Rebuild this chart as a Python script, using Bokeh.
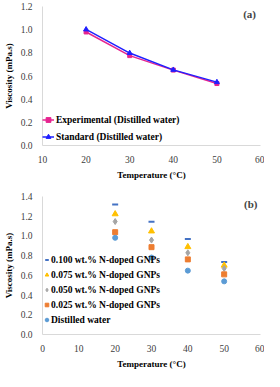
from bokeh.plotting import figure
from bokeh.layouts import column
from bokeh.models import Range1d, FixedTicker, Label, Legend, LegendItem, NumeralTickFormatter
from bokeh.embed import file_html
from bokeh.resources import INLINE

# ---- data (a)
temp_a = [20, 30, 40, 50]
exp_dw = [0.980, 0.776, 0.651, 0.535]
std_dw = [1.002, 0.798, 0.653, 0.547]

# ---- data (b)
temp_b = [20, 30, 40, 50]
gnp_0100 = [1.320, 1.143, 0.968, 0.736]
gnp_0075 = [1.222, 1.048, 0.889, 0.701]
gnp_0050 = [1.146, 0.958, 0.829, 0.670]
gnp_0025 = [1.038, 0.886, 0.762, 0.610]
dist_water = [0.981, 0.781, 0.648, 0.539]

SERIF = "Liberation Serif"
AXC = "#D9D9D9"


def style(p, xticks, yticks):
    p.xgrid.grid_line_color = None
    p.ygrid.grid_line_color = None
    p.outline_line_color = None
    for ax in (p.xaxis[0], p.yaxis[0]):
        ax.axis_line_color = AXC
        ax.major_tick_line_color = None
        ax.minor_tick_line_color = None
        ax.major_label_text_font = SERIF
        ax.major_label_text_font_size = "9.5px"
        ax.major_label_text_color = "#404040"
        ax.axis_label_text_font = SERIF
        ax.axis_label_text_font_size = "9px"
        ax.axis_label_text_font_style = "bold"
        ax.axis_label_text_color = "#000000"
        ax.major_label_standoff = 4
        ax.axis_label_standoff = 4
    p.xaxis[0].ticker = FixedTicker(ticks=xticks)
    p.yaxis[0].ticker = FixedTicker(ticks=yticks)
    p.yaxis[0].formatter = NumeralTickFormatter(format="0.0")


# ---------------- figure (a)
pa = figure(width=264, height=182, output_backend="svg", toolbar_location=None,
            x_range=Range1d(10, 60), y_range=Range1d(0, 1.2),
            min_border_left=20, min_border_right=4, min_border_top=6, min_border_bottom=10)
style(pa, [10, 20, 30, 40, 50, 60], [0, 0.2, 0.4, 0.6, 0.8, 1.0, 1.2])
pa.xaxis[0].axis_label = "Temperature (\u00b0C)"
pa.yaxis[0].axis_label = "Viscosity (mPa.s)"

l1 = pa.line(temp_a, exp_dw, line_color="#E6248F", line_width=1.5)
m1 = pa.scatter(temp_a, exp_dw, marker="square", size=4, color="#E6248F")
l2 = pa.line(temp_a, std_dw, line_color="#1F1FFF", line_width=1.5)
m2 = pa.scatter(temp_a, std_dw, marker="triangle", size=5, color="#1F1FFF")

leg_a = Legend(items=[LegendItem(label="Experimental (Distilled water)", renderers=[l1, m1]),
                      LegendItem(label="Standard (Distilled water)", renderers=[l2, m2])],
               location=(0, 0))
pa.add_layout(leg_a, "center")

pa.add_layout(Label(x=57.5, y=1.135, text="(a)", text_font=SERIF, text_font_size="11px",
                    text_font_style="bold", text_align="center", text_baseline="middle"))

# ---------------- figure (b)
pb = figure(width=264, height=189, output_backend="svg", toolbar_location=None,
            x_range=Range1d(0, 60), y_range=Range1d(0, 1.4),
            min_border_left=20, min_border_right=4, min_border_top=14, min_border_bottom=10)
style(pb, [0, 10, 20, 30, 40, 50, 60], [0, 0.2, 0.4, 0.6, 0.8, 1.0, 1.2, 1.4])
pb.xaxis[0].axis_label = "Temperature (\u00b0C)"
pb.yaxis[0].axis_label = "Viscosity (mPa.s)"

r1 = pb.scatter(temp_b, gnp_0100, marker="dash", size=6, line_color="#4472C4", line_width=2)
r2 = pb.scatter(temp_b, gnp_0075, marker="triangle", size=6, color="#FFC000")
r3 = pb.scatter(temp_b, gnp_0050, marker="diamond", size=6, color="#A5A5A5")
r4 = pb.scatter(temp_b, gnp_0025, marker="square", size=5, color="#ED7D31")
r5 = pb.scatter(temp_b, dist_water, marker="circle", size=5, color="#5B9BD5")

leg_b = Legend(items=[LegendItem(label="0.100 wt.% N-doped GNPs", renderers=[r1]),
                      LegendItem(label="0.075 wt.% N-doped GNPs", renderers=[r2]),
                      LegendItem(label="0.050 wt.% N-doped GNPs", renderers=[r3]),
                      LegendItem(label="0.025 wt.% N-doped GNPs", renderers=[r4]),
                      LegendItem(label="Distilled water", renderers=[r5])],
               location=(0, 7))
pb.add_layout(leg_b, "center")

pb.add_layout(Label(x=57.3, y=1.32, text="(b)", text_font=SERIF, text_font_size="11px",
                    text_font_style="bold", text_align="center", text_baseline="middle"))

for leg, gh, gw, so in ((leg_a, 17, 12, 2), (leg_b, 15, 9, 0)):
    leg.background_fill_alpha = 0
    leg.border_line_color = None
    leg.label_text_font = SERIF
    leg.label_text_font_size = "9.5px"
    leg.label_text_font_style = "bold"
    leg.label_text_color = "#000000"
    leg.label_height = gh
    leg.glyph_height = gh
    leg.glyph_width = gw
    leg.spacing = 0
    leg.padding = 2
    leg.margin = 0
    leg.label_standoff = so

lay = column(pa, pb, spacing=0)
open("out.html", "w").write(file_html(lay, INLINE))
